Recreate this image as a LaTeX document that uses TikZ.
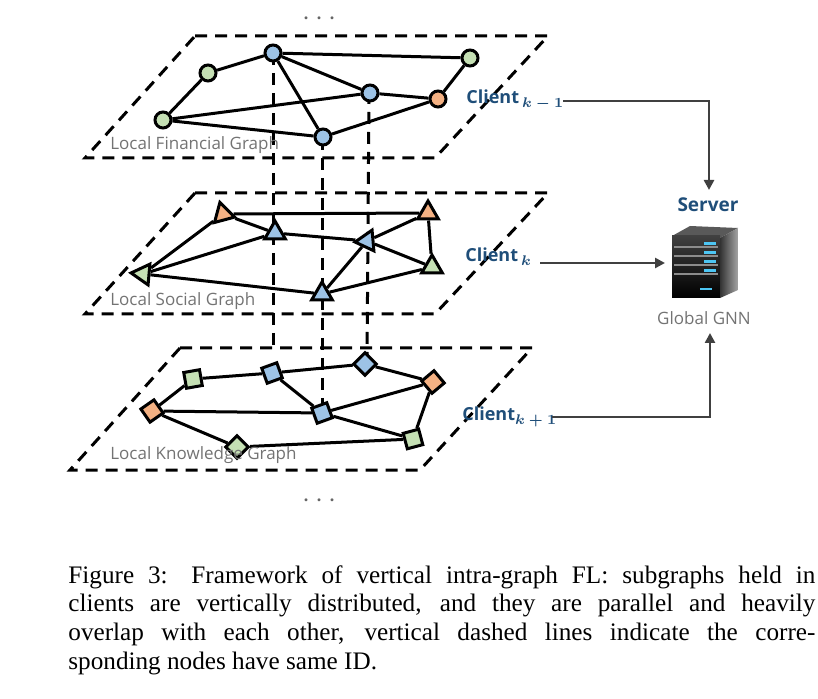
\documentclass[tikz,border=0pt]{standalone}
\usepackage{fontspec}
\setmainfont{Liberation Serif}
\newfontfamily\diagfont{Open Sans}
\usetikzlibrary{shapes.geometric,arrows.meta}

\definecolor{nodegreen}{RGB}{197,224,180}
\definecolor{nodeblue}{RGB}{157,195,230}
\definecolor{nodeorange}{RGB}{244,177,131}
\definecolor{clientblue}{RGB}{31,78,121}
\definecolor{arrowgray}{RGB}{64,64,64}

\newcommand{\clsub}[1]{\raisebox{-2pt}{\fontsize{7}{8}\selectfont$\boldsymbol{#1}$}}
\usepackage{amsmath}

\tikzset{
  plane/.style={line width=1.5pt, dash pattern=on 6pt off 4pt},
  idline/.style={line width=1.5pt, dash pattern=on 6pt off 4pt},
  edge/.style={line width=1.5pt},
  circ/.style={circle, draw, line width=1.5pt, minimum size=8pt, inner sep=0pt},
  tri/.style={regular polygon, regular polygon sides=3, draw, line width=1.5pt, minimum size=12pt, inner sep=0pt},
  sq/.style={rectangle, draw, line width=1.5pt, minimum size=8pt, inner sep=0pt},
  graphlabel/.style={font=\diagfont\fontsize{8.5}{10}\selectfont, text=black!55, anchor=west, inner sep=0pt},
  clientlabel/.style={font=\diagfont\bfseries\fontsize{9}{10}\selectfont, text=clientblue, anchor=west, inner sep=0pt},
  flow/.style={line width=1.4pt, draw=arrowgray, -{Triangle[length=5pt,width=5pt]}},
}

\begin{document}
\begin{tikzpicture}[x=0.5pt,y=-0.5pt]
\useasboundingbox (0,0) rectangle (818,699);

% planes
\draw[plane] (195,36) -- (548,36) -- (435,158) -- (85,158) -- cycle;
\draw[plane] (195,193) -- (548,193) -- (435,314) -- (85,314) -- cycle;
\draw[plane] (180,348) -- (532,348) -- (420,470) -- (70,470) -- cycle;

% vertical id lines
\draw[idline] (273,53) -- (273,348);
\draw[idline] (322,138) -- (322,413);
\draw[idline] (369,92) -- (367,364);

% financial graph
\node[circ, fill=nodeblue] (fa) at (273,53) {};
\node[circ, fill=nodegreen] (fb) at (208,73) {};
\node[circ, fill=nodegreen] (fc) at (163,120) {};
\node[circ, fill=nodeblue] (fd) at (370,93) {};
\node[circ, fill=nodegreen] (fe) at (470,58) {};
\node[circ, fill=nodeorange] (ff) at (438,99) {};
\node[circ, fill=nodeblue] (fg) at (323,137) {};
\draw[edge] (fc) -- (fb) -- (fa) -- (fe) -- (ff) -- (fg) -- (fc) -- (fd) -- (ff);
\draw[edge] (fa) -- (fd);
\draw[edge] (fa) -- (fg);

% social graph
\node[tri, fill=nodeorange, rotate=15] (sa) at (223,214) {};
\node[tri, fill=nodeorange] (sb) at (428,213) {};
\node[tri, fill=nodeblue] (sc) at (275,233) {};
\node[tri, fill=nodeblue, rotate=-25] (sd) at (367,241) {};
\node[tri, fill=nodegreen, rotate=-35] (se) at (143,274) {};
\node[tri, fill=nodegreen] (sf) at (432,267) {};
\node[tri, fill=nodeblue] (sg) at (322,294) {};
\draw[edge] (sa) -- (sb) -- (sf) -- (sg) -- (se) -- (sa) -- (sc) -- (sd) -- (sb);
\draw[edge] (se) -- (sc);
\draw[edge] (sd) -- (sf);
\draw[edge] (sd) -- (sg);

% knowledge graph
\node[sq, fill=nodegreen, rotate=10] (kp) at (193,379) {};
\node[sq, fill=nodeblue, rotate=20] (kq) at (272,373) {};
\node[sq, fill=nodeblue, rotate=45] (kr) at (365,364) {};
\node[sq, fill=nodeorange, rotate=40] (ks) at (433,382) {};
\node[sq, fill=nodeorange, rotate=35] (kt) at (152,411) {};
\node[sq, fill=nodeblue, rotate=20] (ku) at (322,413) {};
\node[sq, fill=nodegreen, rotate=15] (kv) at (413,439) {};
\node[sq, fill=nodegreen, rotate=45] (kw) at (237,447) {};
\draw[edge] (kt) -- (kp) -- (kq) -- (kr) -- (ks) -- (kv) -- (kw) -- (kt) -- (ku) -- (kv);
\draw[edge] (kq) -- (ku) -- (ks);

% graph labels
\node[graphlabel] (lfin) at (110,145) {Local Financial Graph};
\node[graphlabel] (lsoc) at (110,301) {Local Social Graph};
\node[graphlabel] (lknow) at (110,455) {Local Knowledge Graph};

% dots
\node[text=black!60, font=\Large] (topdots) at (322,19) {$\cdots$};
\node[text=black!60, font=\Large] (botdots) at (322,501) {$\cdots$};

% clients
\node[clientlabel] (cl1) at (466,100) {Client\,\clsub{k-1}};
\node[clientlabel] (cl2) at (465,257) {Client\,\clsub{k}};
\node[clientlabel] (cl3) at (462,417) {Client\clsub{k+1}};

% server
\node[font=\diagfont\bfseries\fontsize{9.5}{10}\selectfont, text=clientblue] (srvlabel) at (708,205) {Server};
\fill[black!65] (672,236) -- (690,226) -- (738,228) -- (720,238) -- cycle;
\shade[top color=black!75, bottom color=black] (672,236) rectangle (720,298);
\shade[left color=black!80, right color=black!35] (720,238) -- (738,228) -- (738,290) -- (720,298) -- cycle;
\foreach \yy in {247,256,265,274} {
  \draw[black!45, line width=0.6pt] (674,\yy) -- (718,\yy);
  \draw[cyan!70, line width=1.6pt] (704,\yy-3.5) -- (716,\yy-3.5);
}
\draw[cyan!70, line width=1.2pt] (700,289) -- (712,289);
\node[font=\diagfont\fontsize{8.5}{10}\selectfont, text=black!55] (gnn) at (704,318) {Global GNN};

% arrows
\coordinate (c1turn) at (709,101);
\coordinate (c3turn) at (710,417);
\draw[flow] (563,101) -- (c1turn) -- (709,190);
\draw[flow] (540,263) -- (665,263);
\draw[flow] (552,417) -- (c3turn) -- (710,333);

% caption
\node[anchor=north west, inner sep=0pt, text width=373.5pt, align=justify,
      font=\fontsize{12.6}{14.35}\selectfont] (caption) at (68,565)
  {Figure 3: Framework of vertical intra-graph FL: subgraphs held in\linebreak clients are vertically distributed, and they are parallel and heavily\linebreak overlap with each other, vertical dashed lines indicate the corre-\linebreak sponding nodes have same ID.};
\end{tikzpicture}
\end{document}
